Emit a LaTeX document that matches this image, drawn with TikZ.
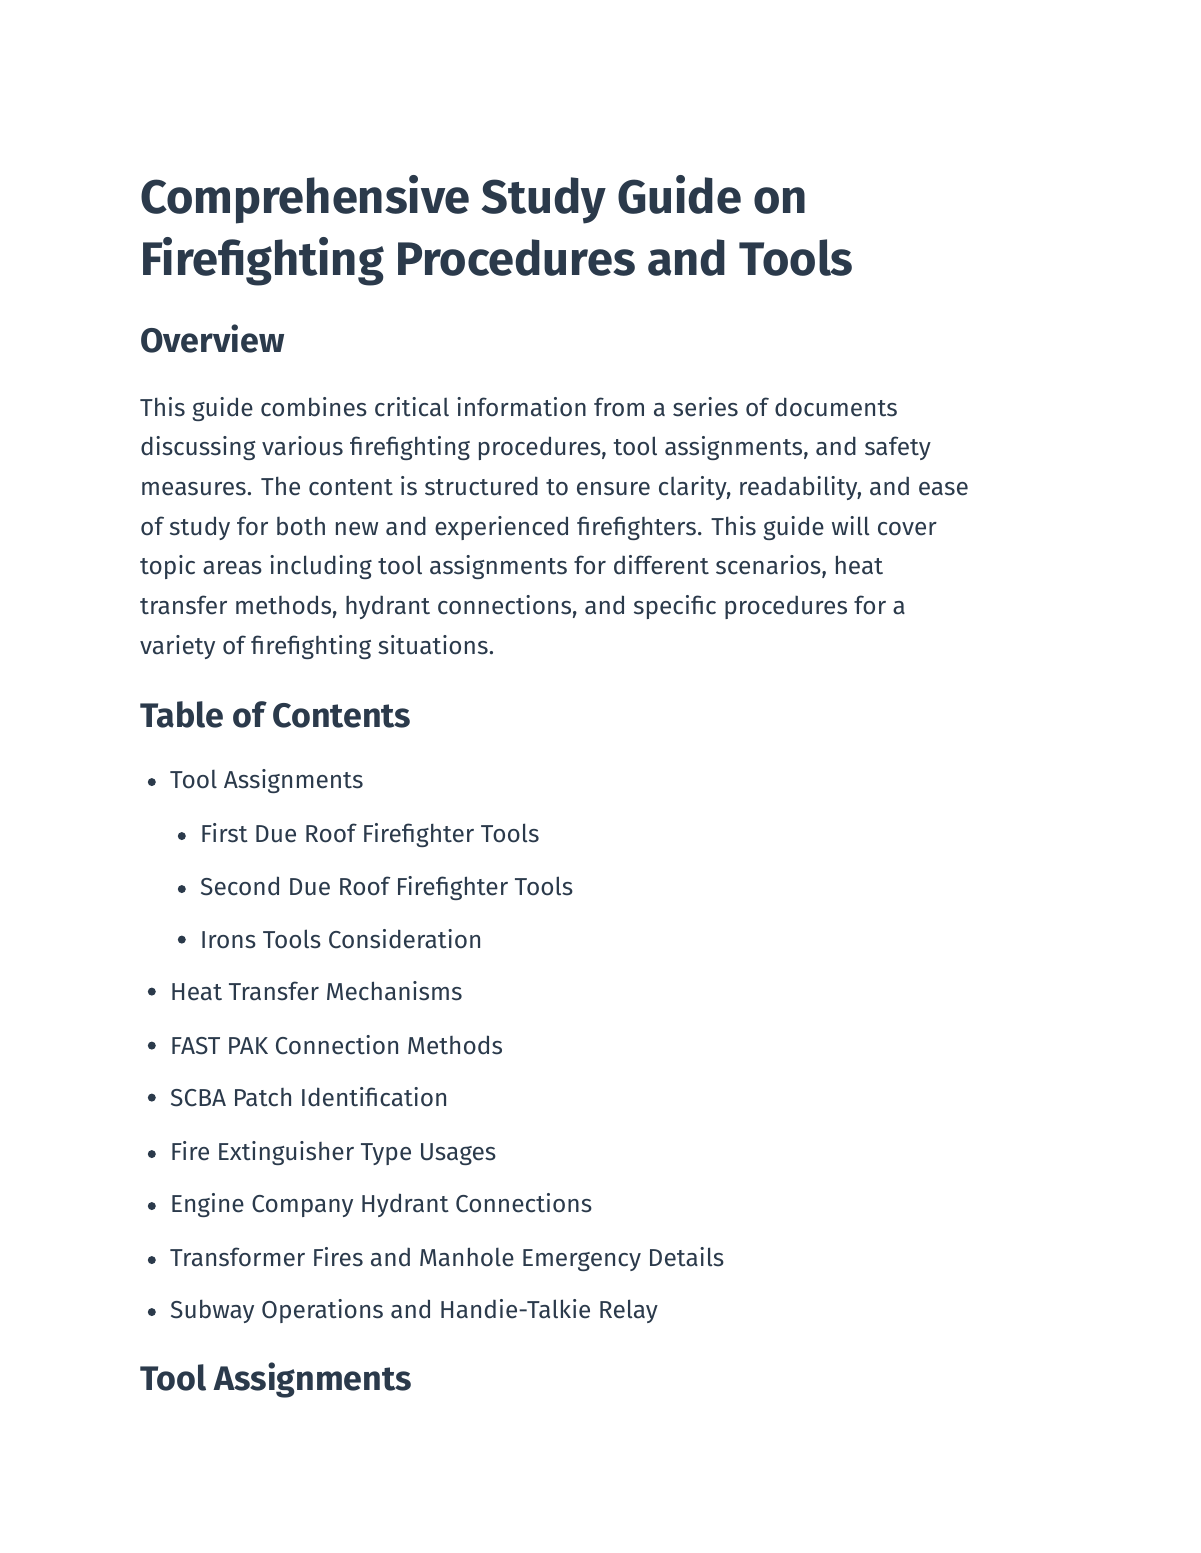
\documentclass[tikz,border=0pt]{standalone}
\usepackage{fontspec}
\setmainfont{Fira Sans}
\usetikzlibrary{positioning}
\definecolor{ink}{HTML}{2B3A4B}
\begin{document}
\begin{tikzpicture}[x=1pt,y=-1pt,
    % styles
    line/.style={anchor=base west, inner sep=0pt, text=ink},
    title/.style={line, font=\fontsize{47}{60}\selectfont\bfseries},
    head/.style={line, font=\fontsize{34}{44}\selectfont\bfseries},
    body/.style={line, font=\fontsize{24.5}{40}\selectfont},
    dot/.style={circle, fill=ink, inner sep=0pt, minimum size=8pt}
]
\useasboundingbox (0,0) rectangle (1200,1553);

% --- title ---
\node[title] (T-1) at (140,213) {Comprehensive Study Guide on};
\node[title] (T-2) at (140,275) {Firefighting Procedures and Tools};

% --- overview ---
\node[head] (H-1) at (140,352) {Overview};
\foreach \t [count=\i] in {
    {This guide combines critical information from a series of documents},
    {discussing various firefighting procedures, tool assignments, and safety},
    {measures. The content is structured to ensure clarity, readability, and ease},
    {of study for both new and experienced firefighters. This guide will cover},
    {topic areas including tool assignments for different scenarios, heat},
    {transfer methods, hydrant connections, and specific procedures for a},
    {variety of firefighting situations.}}
    \node[body] (P-\i) at (140,{416+(\i-1)*39.7}) {\t};

% --- table of contents ---
\node[head] (H-2) at (140,727) {Table of Contents};
\foreach \t/\x/\y [count=\i] in {
    Tool Assignments/0/788,
    First Due Roof Firefighter Tools/1/842,
    Second Due Roof Firefighter Tools/1/895,
    Irons Tools Consideration/1/948,
    Heat Transfer Mechanisms/0/1000,
    FAST PAK Connection Methods/0/1054,
    SCBA Patch Identification/0/1106,
    Fire Extinguisher Type Usages/0/1160,
    Engine Company Hydrant Connections/0/1212,
    Transformer Fires and Manhole Emergency Details/0/1266,
    Subway Operations and Handie-Talkie Relay/0/1318}
{
    \node[body] (L-\i) at ({170+\x*30},\y) {\t};
    \node[dot, left=14pt of L-\i.west, yshift=-1pt] (D-\i) {};
}

\node[head] (H-3) at (140,1390) {Tool Assignments};
\end{tikzpicture}
\end{document}
